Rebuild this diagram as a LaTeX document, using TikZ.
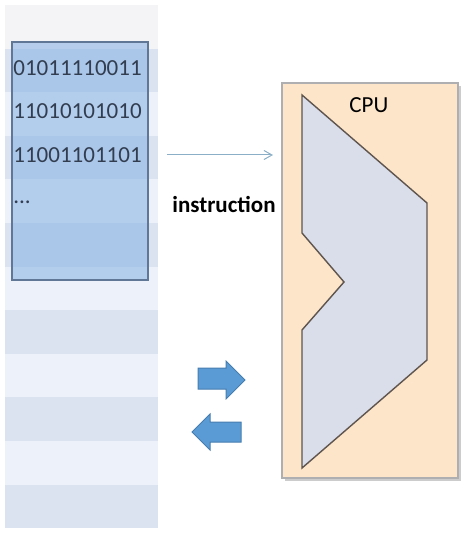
\documentclass[tikz,border=0pt]{standalone}
\usepackage{fontspec}
\setmainfont{Carlito}
\usepackage{tikz}
\usetikzlibrary{arrows.meta}
\definecolor{topstrip}{RGB}{244,244,246}
\definecolor{stripdark}{RGB}{219,227,241}
\definecolor{striplight}{RGB}{237,241,249}
\definecolor{memblue}{RGB}{122,170,226}
\definecolor{memline}{RGB}{96,120,150}
\definecolor{thinblue}{RGB}{140,175,200}
\definecolor{cpufill}{RGB}{253,229,201}
\definecolor{cpuline}{RGB}{175,175,178}
\definecolor{corefill}{RGB}{218,222,234}
\definecolor{coreline}{RGB}{95,85,78}
\definecolor{blockblue}{RGB}{91,155,213}
\definecolor{blockline}{RGB}{70,125,175}
\definecolor{textgray}{RGB}{50,62,80}

\begin{document}
\begin{tikzpicture}[x = .5pt, y = -.5pt, line join = miter]
  \useasboundingbox (0, 0) rectangle (474, 539);
  % memory column
  \fill[topstrip] (5, 5) rectangle (158, 48.6);
  \foreach \i in {1,3,...,11}
    \fill[stripdark] (5, {5 + 43.6*\i}) rectangle (158, {48.6 + 43.6*\i});
  \foreach \i in {2,4,...,10}
    \fill[striplight] (5, {5 + 43.6*\i}) rectangle (158, {48.6 + 43.6*\i});
  \draw[memline, line width = .6pt, fill = memblue, fill opacity = .5] (12, 42) rectangle (148, 280);
\node[anchor = west, inner sep = 0pt, textgray, font = \fontsize{11.5}{14}\selectfont] (word1) at (13, 68.5) {01011110011};
\node[anchor = west, inner sep = 0pt, textgray, font = \fontsize{11.5}{14}\selectfont] (word2) at (13, 111) {11010101010};
\node[anchor = west, inner sep = 0pt, textgray, font = \fontsize{11.5}{14}\selectfont] (word3) at (13, 155) {11001101101};
\node[anchor = base west, inner sep = 0pt, textgray, font = \fontsize{11.5}{14}\selectfont] (dots) at (13, 204) {...};
  % instruction arrow
  \coordinate (src) at (167, 155);
  \coordinate (dst) at (273, 155);
  \draw[thinblue, line width = .5pt, -{Straight Barb[length = 4pt, width = 4.5pt]}] (src) -- (dst);
\node[anchor = base west, inner sep = 0pt, font = \bfseries\fontsize{11.5}{14}\selectfont] (instr) at (172, 213) {instruction};
  % cpu
  \fill[black, opacity = .2] (285, 86) rectangle (461, 481);
  \draw[cpuline, line width = .8pt, fill = cpufill] (282, 83) rectangle (458, 478);
  \draw[coreline, line width = .7pt, fill = corefill] (302, 95) -- (427, 203) -- (427, 360) -- (302, 468)
    -- (302, 330) -- (344, 282) -- (302, 233) -- cycle;
\node[anchor = base west, inner sep = 0pt, font = \fontsize{11.5}{14}\selectfont] (cpu) at (349, 113) {CPU};
  % data arrows
  \draw[blockline, line width = .5pt, fill = blockblue] (198, 368) -- (226, 368) -- (226, 361) -- (245, 380)
    -- (226, 399) -- (226, 389) -- (198, 389) -- cycle;
  \draw[blockline, line width = .5pt, fill = blockblue] (241, 422) -- (210, 422) -- (210, 414) -- (192, 432)
    -- (210, 450) -- (210, 442) -- (241, 442) -- cycle;
 \end{tikzpicture}
\end{document}
